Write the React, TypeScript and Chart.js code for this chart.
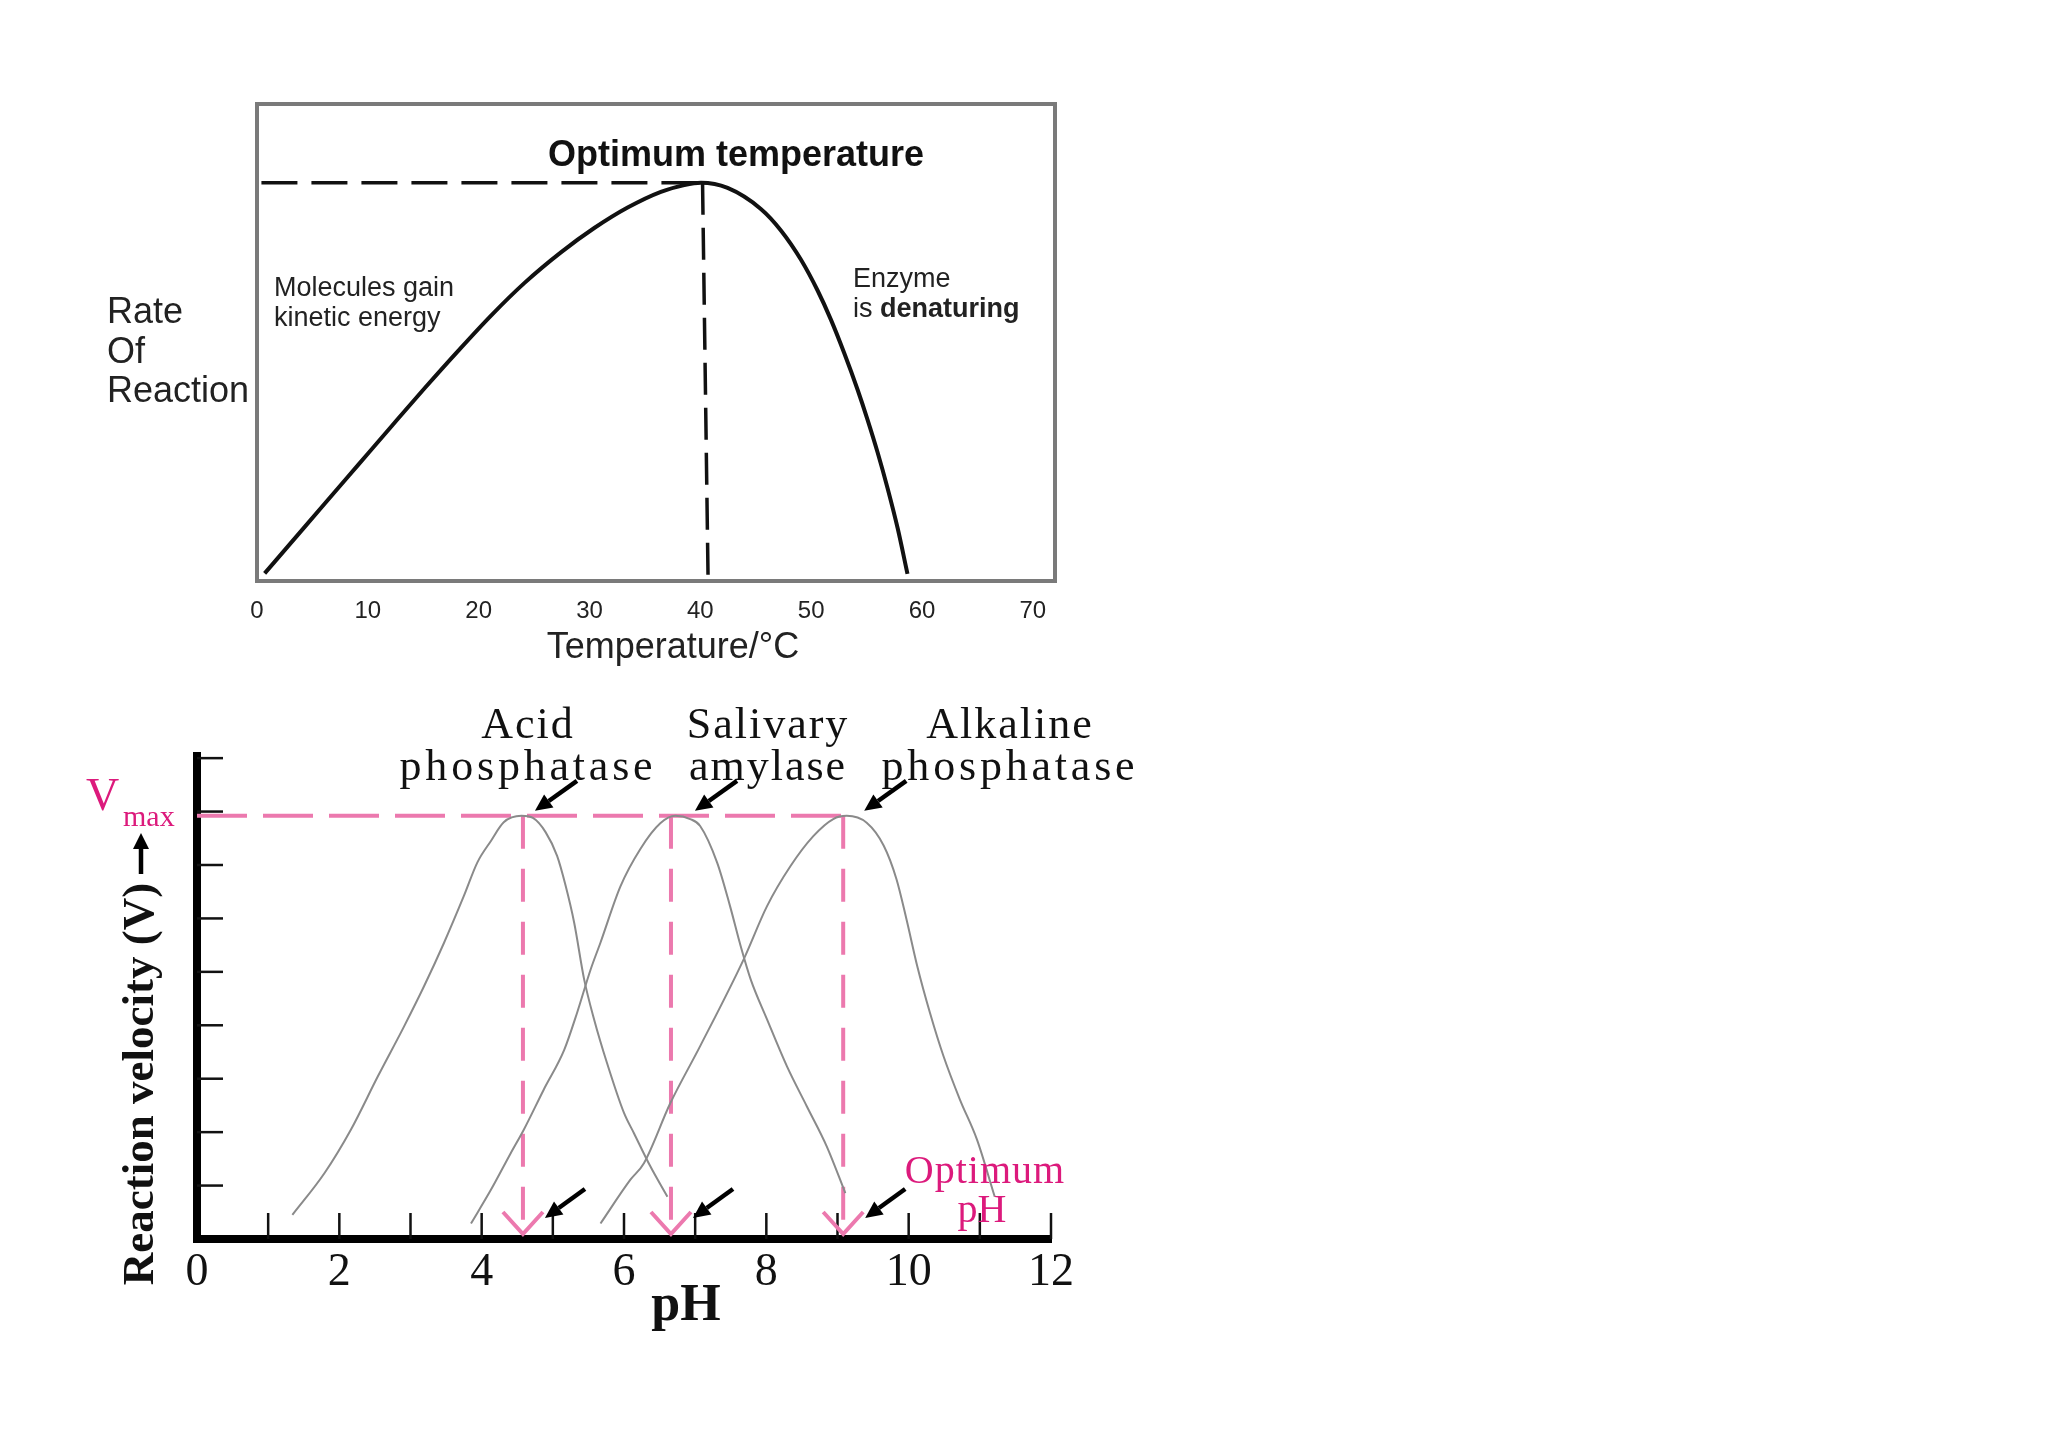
import React, { useEffect, useRef } from 'react';
import { Chart, registerables } from 'chart.js';

Chart.register(...registerables);

const SANS = '"Liberation Sans", Arial, Helvetica, sans-serif';
const SERIF = '"Liberation Serif", "Times New Roman", Times, serif';

// ===== Chart 1: rate of reaction vs temperature =====
const temperatureC = [0.69, 3.1, 6.1, 9.11, 12.12, 15.12, 18.13, 21.14, 24.14, 27.42, 30.43, 33.44, 36.44, 38.55, 40.05, 42.46, 45.46, 47.27, 49.07, 50.58, 51.78, 52.98, 54.19, 55.09, 55.99, 56.9, 57.8, 58.69];
const reactionRate = [1.6, 8.1, 16.2, 24.3, 32.4, 40.4, 48.2, 55.7, 62.5, 68.9, 74.0, 78.3, 81.6, 83.0, 83.5, 82.4, 78.0, 73.5, 67.4, 60.9, 54.8, 47.8, 40.1, 33.8, 27.0, 19.4, 11.1, 1.5];
const temperatureTicks = [0, 10, 20, 30, 40, 50, 60, 70];
const temperatureRange = [0, 72];
const rateRange = [0, 100];
const optimumTemperature = 40.4;
const peakRate = 83.5;

// ===== Chart 2: reaction velocity vs pH =====
const acidPH = [1.34, 1.79, 2.16, 2.54, 2.91, 3.19, 3.47, 3.75, 3.94, 4.13, 4.31, 4.56, 4.72, 4.9, 5.06, 5.18, 5.3, 5.44, 5.58, 5.76, 6.0, 6.14, 6.37, 6.61];
const acidV = [0.45, 1.23, 2.04, 3.04, 3.98, 4.73, 5.54, 6.42, 7.05, 7.45, 7.8, 7.92, 7.88, 7.61, 7.17, 6.61, 5.92, 4.86, 4.11, 3.3, 2.36, 1.98, 1.36, 0.79];
const salivaryPH = [3.85, 4.13, 4.41, 4.59, 4.87, 5.16, 5.34, 5.53, 5.67, 5.95, 6.23, 6.51, 6.72, 6.93, 7.07, 7.31, 7.49, 7.64, 7.78, 8.01, 8.29, 8.57, 8.85, 9.11];
const salivaryV = [0.29, 0.92, 1.61, 2.04, 2.79, 3.54, 4.23, 5.04, 5.55, 6.6, 7.3, 7.78, 7.92, 7.86, 7.73, 7.04, 6.23, 5.48, 4.86, 4.11, 3.23, 2.48, 1.73, 0.86];
const alkalinePH = [5.67, 6.09, 6.28, 6.65, 7.07, 7.68, 8.01, 8.34, 8.66, 8.94, 9.13, 9.41, 9.65, 9.83, 9.97, 10.12, 10.3, 10.49, 10.72, 10.96, 11.21];
const alkalineV = [0.29, 1.11, 1.42, 2.54, 3.61, 5.23, 6.23, 6.98, 7.54, 7.86, 7.92, 7.79, 7.36, 6.73, 5.98, 5.11, 4.23, 3.42, 2.61, 1.86, 0.79];
const phTickValues = [0, 1, 2, 3, 4, 5, 6, 7, 8, 9, 10, 11, 12];
const phLabelValues = [0, 2, 4, 6, 8, 10, 12];
const velocityTickValues = [1, 2, 3, 4, 5, 6, 7, 8, 9];
const phRange = [0, 12];
const velocityRange = [0, 9.04];
const optimumPH = [4.58, 6.66, 9.08];
const vmax = 7.92;
const enzymeNames = [
  ['Acid', 'phosphatase'],
  ['Salivary', 'amylase'],
  ['Alkaline', 'phosphatase'],
];

const PINK_LINE = '#EC79AE';
const PINK_TEXT = '#DC1A7C';
const W = 2048;
const H = 1448;

function text(ctx: CanvasRenderingContext2D, s: string, x: number, y: number, font: string, color: string, align: CanvasTextAlign = 'left', spacing = '0px') {
  ctx.save();
  ctx.font = font;
  ctx.fillStyle = color;
  ctx.textAlign = align;
  ctx.textBaseline = 'alphabetic';
  (ctx as any).letterSpacing = spacing;
  ctx.fillText(s, x, y);
  ctx.restore();
}

function arrow(ctx: CanvasRenderingContext2D, tx: number, ty: number, hx: number, hy: number, lw = 4.5, headLen = 17, headW = 8) {
  const ang = Math.atan2(hy - ty, hx - tx);
  const bx = hx - Math.cos(ang) * headLen;
  const by = hy - Math.sin(ang) * headLen;
  ctx.save();
  ctx.strokeStyle = '#000';
  ctx.fillStyle = '#000';
  ctx.lineWidth = lw;
  ctx.beginPath();
  ctx.moveTo(tx, ty);
  ctx.lineTo(bx, by);
  ctx.stroke();
  ctx.beginPath();
  ctx.moveTo(hx, hy);
  ctx.lineTo(bx + Math.sin(ang) * headW, by - Math.cos(ang) * headW);
  ctx.lineTo(bx - Math.sin(ang) * headW, by + Math.cos(ang) * headW);
  ctx.closePath();
  ctx.fill();
  ctx.restore();
}

const temperaturePlugin = {
  id: 'temperatureDecor',
  beforeDatasetsDraw(chart: any) {
    const { ctx, chartArea } = chart;
    ctx.save();
    ctx.strokeStyle = '#7a7a7a';
    ctx.lineWidth = 4;
    ctx.strokeRect(chartArea.left, chartArea.top, chartArea.right - chartArea.left, chartArea.bottom - chartArea.top);
    ctx.restore();
  },
  afterDraw(chart: any) {
    const ctx: CanvasRenderingContext2D = chart.ctx;
    text(ctx, 'Optimum temperature', 736, 166, `bold 36px ${SANS}`, '#111', 'center');
    text(ctx, 'Molecules gain', 274, 296, `27px ${SANS}`, '#222');
    text(ctx, 'kinetic energy', 274, 326, `27px ${SANS}`, '#222');
    text(ctx, 'Enzyme', 853, 287, `27px ${SANS}`, '#222');
    ctx.save();
    ctx.font = `27px ${SANS}`;
    const w = ctx.measureText('is ').width;
    ctx.restore();
    text(ctx, 'is ', 853, 317, `27px ${SANS}`, '#222');
    text(ctx, 'denaturing', 853 + w, 317, `bold 27px ${SANS}`, '#222');
    text(ctx, 'Rate', 107, 323, `36px ${SANS}`, '#222');
    text(ctx, 'Of', 107, 363, `36px ${SANS}`, '#222');
    text(ctx, 'Reaction', 107, 402, `36px ${SANS}`, '#222');
    text(ctx, 'Temperature/\u00B0C', 673, 658, `36px ${SANS}`, '#222', 'center');
  },
};

const phPlugin = {
  id: 'phDecor',
  beforeDatasetsDraw(chart: any) {
    const ctx: CanvasRenderingContext2D = chart.ctx;
    const xs = chart.scales.x;
    const ys = chart.scales.y;
    const { left, bottom } = chart.chartArea;
    ctx.save();
    ctx.strokeStyle = '#111';
    ctx.lineWidth = 2.5;
    xs.ticks.forEach((t: any) => {
      if (t.value === 0) return;
      const px = xs.getPixelForValue(t.value);
      ctx.beginPath();
      ctx.moveTo(px, bottom);
      ctx.lineTo(px, bottom - 26);
      ctx.stroke();
    });
    ys.ticks.forEach((t: any) => {
      const py = ys.getPixelForValue(t.value);
      ctx.beginPath();
      ctx.moveTo(left, py);
      ctx.lineTo(left + 26, py);
      ctx.stroke();
    });
    ctx.restore();
  },
  afterDraw(chart: any) {
    const ctx: CanvasRenderingContext2D = chart.ctx;
    const xs = chart.scales.x;
    const ys = chart.scales.y;
    const { bottom } = chart.chartArea;
    const vy = ys.getPixelForValue(vmax);
    const topOffsets = [12, 24, 21];
    optimumPH.forEach((p, i) => {
      const px = xs.getPixelForValue(p);
      ctx.save();
      ctx.strokeStyle = PINK_LINE;
      ctx.lineWidth = 4;
      ctx.beginPath();
      ctx.moveTo(px - 20, bottom - 27);
      ctx.lineTo(px, bottom - 5);
      ctx.lineTo(px + 20, bottom - 27);
      ctx.stroke();
      ctx.restore();
      const tx = px + topOffsets[i];
      arrow(ctx, tx + 42, vy - 35, tx, vy - 5);
      arrow(ctx, px + 62, bottom - 50, px + 22, bottom - 21);
    });
    const labelX = [528, 768, 1010];
    enzymeNames.forEach((n, i) => {
      text(ctx, n[0], labelX[i], 738, `44px ${SERIF}`, '#111', 'center', '2px');
      text(ctx, n[1], labelX[i], 780, `44px ${SERIF}`, '#111', 'center', n[1] === 'phosphatase' ? '3.8px' : '2px');
    });
    text(ctx, 'V', 86, 810, `46px ${SERIF}`, PINK_TEXT);
    text(ctx, 'max', 123, 826, `30px ${SERIF}`, PINK_TEXT);
    text(ctx, 'Optimum', 985, 1183, `40px ${SERIF}`, PINK_TEXT, 'center', '1px');
    text(ctx, 'pH', 982, 1222, `40px ${SERIF}`, PINK_TEXT, 'center');
    text(ctx, 'pH', 686, 1320, `bold 52px ${SERIF}`, '#111', 'center');
    ctx.save();
    ctx.translate(141, 1084);
    ctx.rotate(-Math.PI / 2);
    ctx.font = `bold 45px ${SERIF}`;
    ctx.fillStyle = '#111';
    ctx.textAlign = 'center';
    ctx.textBaseline = 'middle';
    ctx.fillText('Reaction velocity (V)', 0, 0);
    ctx.restore();
    arrow(ctx, 141, 874, 141, 833, 4.5, 16, 8);
  },
};

function TemperatureChart() {
  const ref = useRef<HTMLCanvasElement>(null);
  useEffect(() => {
    if (!ref.current) return;
    const chart = new Chart(ref.current, {
      type: 'line',
      data: {
        datasets: [
          {
            label: 'Rate of reaction',
            data: temperatureC.map((x, i) => ({ x, y: reactionRate[i] })),
            borderColor: '#111',
            borderWidth: 4,
            pointRadius: 0,
            cubicInterpolationMode: 'monotone',
            fill: false,
          },
          {
            label: 'Peak rate',
            data: [{ x: 0.4, y: peakRate }, { x: optimumTemperature - 0.2, y: peakRate }],
            borderColor: '#111',
            borderWidth: 3.5,
            borderDash: [36, 14],
            pointRadius: 0,
          },
          {
            label: 'Optimum temperature',
            data: [{ x: optimumTemperature - 0.2, y: peakRate }, { x: optimumTemperature + 0.3, y: 0.3 }],
            borderColor: '#111',
            borderWidth: 3.5,
            borderDash: [32, 13],
            pointRadius: 0,
          },
        ],
      } as any,
      options: {
        responsive: false,
        animation: false,
        layout: { padding: { left: 257, top: 104, right: W - 1055, bottom: H - 700 } },
        plugins: { legend: { display: false }, tooltip: { enabled: false } },
        scales: {
          x: {
            type: 'linear',
            min: temperatureRange[0],
            max: temperatureRange[1],
            afterBuildTicks: (s: any) => { s.ticks = temperatureTicks.map((v) => ({ value: v })); },
            afterFit: (s: any) => { s.height = 700 - 581; },
            grid: { display: true, drawOnChartArea: false, drawTicks: false },
            border: { display: false },
            ticks: { padding: 16, font: { family: SANS, size: 24 }, color: '#222', autoSkip: false, maxRotation: 0 },
          },
          y: { display: false, min: rateRange[0], max: rateRange[1] },
        },
      } as any,
      plugins: [temperaturePlugin],
    });
    return () => chart.destroy();
  }, []);
  return <canvas ref={ref} width={W} height={H} style={{ position: 'absolute', left: 0, top: 0, width: W, height: H }} />;
}

function PHChart() {
  const ref = useRef<HTMLCanvasElement>(null);
  useEffect(() => {
    if (!ref.current) return;
    const curve = (label: string, xs: number[], ys: number[]) => ({
      label,
      data: xs.map((x, i) => ({ x, y: ys[i] })),
      borderColor: '#8a8a8a',
      borderWidth: 2,
      pointRadius: 0,
      cubicInterpolationMode: 'monotone',
      fill: false,
    });
    const chart = new Chart(ref.current, {
      type: 'line',
      data: {
        datasets: [
          curve('Acid phosphatase', acidPH, acidV),
          curve('Salivary amylase', salivaryPH, salivaryV),
          curve('Alkaline phosphatase', alkalinePH, alkalineV),
          {
            label: 'Vmax',
            data: [{ x: 0, y: vmax }, { x: optimumPH[2], y: vmax }],
            borderColor: PINK_LINE,
            borderWidth: 4,
            borderDash: [50, 16],
            pointRadius: 0,
          },
          ...optimumPH.map((p) => ({
            label: 'Optimum pH ' + p,
            data: [{ x: p, y: vmax }, { x: p, y: 0.05 }],
            borderColor: PINK_LINE,
            borderWidth: 4,
            borderDash: [33, 20],
            pointRadius: 0,
          })),
        ],
      } as any,
      options: {
        responsive: false,
        animation: false,
        layout: { padding: { left: 197, top: 756, right: W - 1051, bottom: H - 1400 } },
        plugins: { legend: { display: false }, tooltip: { enabled: false } },
        scales: {
          x: {
            type: 'linear',
            min: phRange[0],
            max: phRange[1],
            afterBuildTicks: (s: any) => { s.ticks = phTickValues.map((v) => ({ value: v })); },
            afterFit: (s: any) => { s.height = 1400 - 1239; },
            grid: { display: true, drawOnChartArea: false, drawTicks: false },
            border: { display: true, width: 8, color: '#000' },
            ticks: {
              padding: 6,
              font: { family: SERIF, size: 46 },
              color: '#111',
              autoSkip: false,
              maxRotation: 0,
              callback: (v: any) => (phLabelValues.includes(Number(v)) ? String(v) : ''),
            },
          },
          y: {
            type: 'linear',
            min: velocityRange[0],
            max: velocityRange[1],
            afterBuildTicks: (s: any) => { s.ticks = velocityTickValues.map((v) => ({ value: v })); },
            afterFit: (s: any) => { s.width = 0; },
            grid: { display: true, drawOnChartArea: false, drawTicks: false },
            border: { display: true, width: 8, color: '#000' },
            ticks: { display: false },
          },
        },
      } as any,
      plugins: [phPlugin],
    });
    return () => chart.destroy();
  }, []);
  return <canvas ref={ref} width={W} height={H} style={{ position: 'absolute', left: 0, top: 0, width: W, height: H }} />;
}

export default function App() {
  return (
    <div style={{ position: 'absolute', left: 0, top: 0, width: W, height: H, background: '#fff', overflow: 'hidden' }}>
      <TemperatureChart />
      <PHChart />
    </div>
  );
}
